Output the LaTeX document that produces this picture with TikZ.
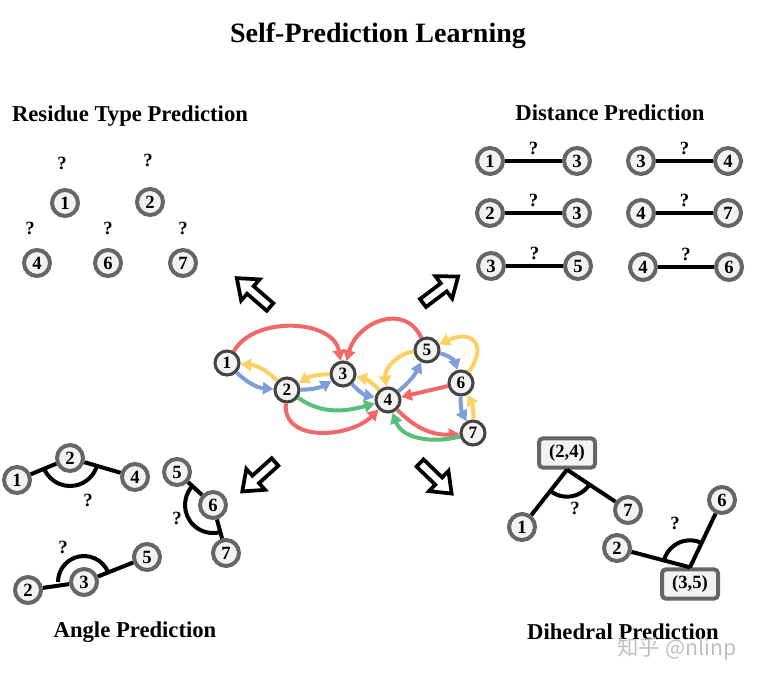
\documentclass[tikz,border=0pt]{standalone}
\usepackage{fontspec}
\setmainfont{Liberation Serif}
\newfontfamily\cjkfont{Noto Sans CJK SC}
\usetikzlibrary{arrows.meta,positioning,calc}
\definecolor{EdgeRed}{HTML}{F26868}
\definecolor{EdgeYellow}{HTML}{FCD062}
\definecolor{EdgeBlue}{HTML}{7D9EDB}
\definecolor{EdgeGreen}{HTML}{58BE7C}
\definecolor{RingGray}{HTML}{666666}
\definecolor{RingDark}{HTML}{444444}
\definecolor{NodeFill}{HTML}{F2F2F2}

\tikzset{
  bigarrow/.pic={
    \draw[line width=2.8pt, line join=miter, fill=white]
      (0,-5) -- (26,-5) -- (26,-14) -- (44,0) -- (26,14) -- (26,5) -- (0,5) -- cycle;
  }
}

\begin{document}
\begin{tikzpicture}[x=0.75pt, y=0.75pt,
  res/.style={circle, draw=RingGray, line width=3pt, fill=NodeFill, minimum size=19.5pt,
    inner sep=0pt, font=\fontsize{14}{14}\selectfont\bfseries},
  gres/.style={circle, draw=RingDark, line width=2.3pt, fill=NodeFill, minimum size=18pt,
    inner sep=0pt, font=\fontsize{13}{13}\selectfont\bfseries},
  pairbox/.style={rectangle, rounded corners=3pt, draw=RingGray, line width=3pt, fill=NodeFill,
    minimum width=42pt, minimum height=22pt, inner sep=0pt, font=\fontsize{14}{14}\selectfont\bfseries},
  qmark/.style={font=\fontsize{14}{14}\selectfont\bfseries},
  heading/.style={font=\fontsize{17}{17}\selectfont\bfseries},
  bond/.style={line width=3pt},
  flow/.style={line width=3pt, -{Triangle[length=8pt,width=9pt]}}
]
\useasboundingbox (0,0) rectangle (759,-681);

% Title
\node[font=\fontsize{21}{21}\selectfont\bfseries] (title) at (378,-36) {Self-Prediction Learning};

% Panel headings
\node[heading] (headres) at (130,-116) {Residue Type Prediction};
\node[heading] (headdist) at (610,-113) {Distance Prediction};
\node[heading] (headang) at (135,-632) {Angle Prediction};
\node[heading] (headdih) at (623,-632) {Dihedral Prediction};

% Residue type prediction
\node[res] (r1) at (65,-203) {1};
\node[res] (r2) at (150,-202) {2};
\node[res] (r4) at (37,-263) {4};
\node[res] (r6) at (108,-263) {6};
\node[res] (r7) at (183,-263) {7};
\node[qmark] (rq1) at (62,-163) {?};
\node[qmark] (rq2) at (148,-160) {?};
\node[qmark] (rq4) at (30,-228) {?};
\node[qmark] (rq6) at (108,-228) {?};
\node[qmark] (rq7) at (183,-228) {?};

% Distance prediction
\node[res] (p1a) at (490,-161) {1};
\node[res] (p1b) at (577,-161) {3};
\node[res] (p2a) at (641,-161) {3};
\node[res] (p2b) at (728,-161) {4};
\node[res] (p3a) at (490,-213) {2};
\node[res] (p3b) at (577,-213) {3};
\node[res] (p4a) at (641,-213) {4};
\node[res] (p4b) at (728,-213) {7};
\node[res] (p5a) at (491,-266) {3};
\node[res] (p5b) at (578,-266) {5};
\node[res] (p6a) at (643,-267) {4};
\node[res] (p6b) at (729,-267) {6};
\foreach \k in {1,...,6} {
  \draw[bond] (p\k a) -- (p\k b);
  \node[qmark] (pq\k) at ($(p\k a)!0.5!(p\k b)+(0,13)$) {?};
}

% Central graph
\node[gres] (g1) at (227,-363) {1};
\node[gres] (g2) at (287,-390) {2};
\node[gres] (g3) at (343,-374) {3};
\node[gres] (g4) at (388,-400) {4};
\node[gres] (g5) at (427,-350) {5};
\node[gres] (g6) at (461,-383) {6};
\node[gres] (g7) at (473,-433) {7};

\draw[flow, EdgeRed] (g1) to[out=60, in=100] (g3);
\draw[flow, EdgeRed] (g5) to[out=115, in=75, looseness=1.3] (g3);
\draw[flow, EdgeYellow] (g2) to[bend right=20] (g1);
\draw[flow, EdgeBlue] (g1) to[bend right=20] (g2);
\draw[flow, EdgeYellow] (g3) to[bend right=15] (g2);
\draw[flow, EdgeBlue] (g2) to[bend right=15] (g3);
\draw[flow, EdgeBlue] (g3) to[bend right=18] (g4);
\draw[flow, EdgeYellow] (g4) to[bend right=18] (g3);
\draw[flow, EdgeGreen] (g2) to[out=-35, in=195] (g4);
\draw[flow, EdgeRed] (g2) to[out=-95, in=225, looseness=1.1] (g4);
\draw[flow, EdgeBlue] (g4) to[bend right=12] (g5);
\draw[flow, EdgeYellow] (g5) to[bend right=45] (g4);
\draw[flow, EdgeBlue] (g5) to[bend left=30] (g6);
\draw[flow, EdgeYellow] (g6) to[out=55, in=25, looseness=2.2] (g5);
\draw[flow, EdgeRed] (g6) -- (g4);
\draw[flow, EdgeBlue] (g6) to[bend right=15] (g7);
\draw[flow, EdgeYellow] (g7) to[bend right=15] (g6);
\draw[flow, EdgeRed] (g4) to[bend right=25] (g7);
\draw[flow, EdgeGreen] (g7) to[out=195, in=290] (g4);

% Big hollow arrows towards the panels
\pic[rotate=139] at (270,-307) {bigarrow};
\pic[rotate=37] at (423,-303) {bigarrow};
\pic[rotate=222] at (275,-462) {bigarrow};
\pic[rotate=-44] at (420,-463) {bigarrow};

% Angle prediction
\draw[bond] ([shift={(203:28)}]70,-458) arc[start angle=203, end angle=343, radius=28];
\draw[bond] ([shift={(137:28)}]213,-505) arc[start angle=137, end angle=285, radius=28];
\draw[bond] ([shift={(21:26)}]84,-582) arc[start angle=21, end angle=180, radius=26];
\node[res] (aa1) at (17,-480) {1};
\node[res] (aa2) at (70,-458) {2};
\node[res] (aa4) at (135,-477) {4};
\draw[bond] (aa1) -- (aa2) -- (aa4);
\node[qmark] (aq1) at (88,-500) {?};
\node[res] (ab5) at (177,-472) {5};
\node[res] (ab6) at (213,-505) {6};
\node[res] (ab7) at (226,-553) {7};
\draw[bond] (ab5) -- (ab6) -- (ab7);
\node[qmark] (aq2) at (177,-518) {?};
\node[res] (ac2) at (28,-590) {2};
\node[res] (ac3) at (84,-582) {3};
\node[res] (ac5) at (147,-557) {5};
\draw[bond] (ac2) -- (ac3) -- (ac5);
\node[qmark] (aq3) at (63,-547) {?};

% Dihedral prediction
\node[pairbox] (b24) at (567,-453) {(2,4)};
\node[res] (d1) at (522,-527) {1};
\node[res] (d7) at (628,-510) {7};
\draw[bond] (b24.south) -- (d1);
\draw[bond] (b24.south) -- (d7);
\draw[bond] ([shift={(233:27)}]b24.south) arc[start angle=233, end angle=325, radius=27];
\node[qmark] (dq1) at (575,-508) {?};
\node[pairbox] (b35) at (690,-584) {(3,5)};
\node[res] (d2) at (617,-548) {2};
\node[res] (d6) at (722,-500) {6};
\draw[bond] (b35.north) -- (d2);
\draw[bond] (b35.north) -- (d6);
\draw[bond] ([shift={(66:27)}]b35.north) arc[start angle=66, end angle=166, radius=27];
\node[qmark] (dq2) at (675,-523) {?};

% Watermark
\node[text=gray!50, font=\cjkfont\fontsize{16}{16}\selectfont] (mark) at (677,-649) {知乎 @nlinp};
\end{tikzpicture}
\end{document}
